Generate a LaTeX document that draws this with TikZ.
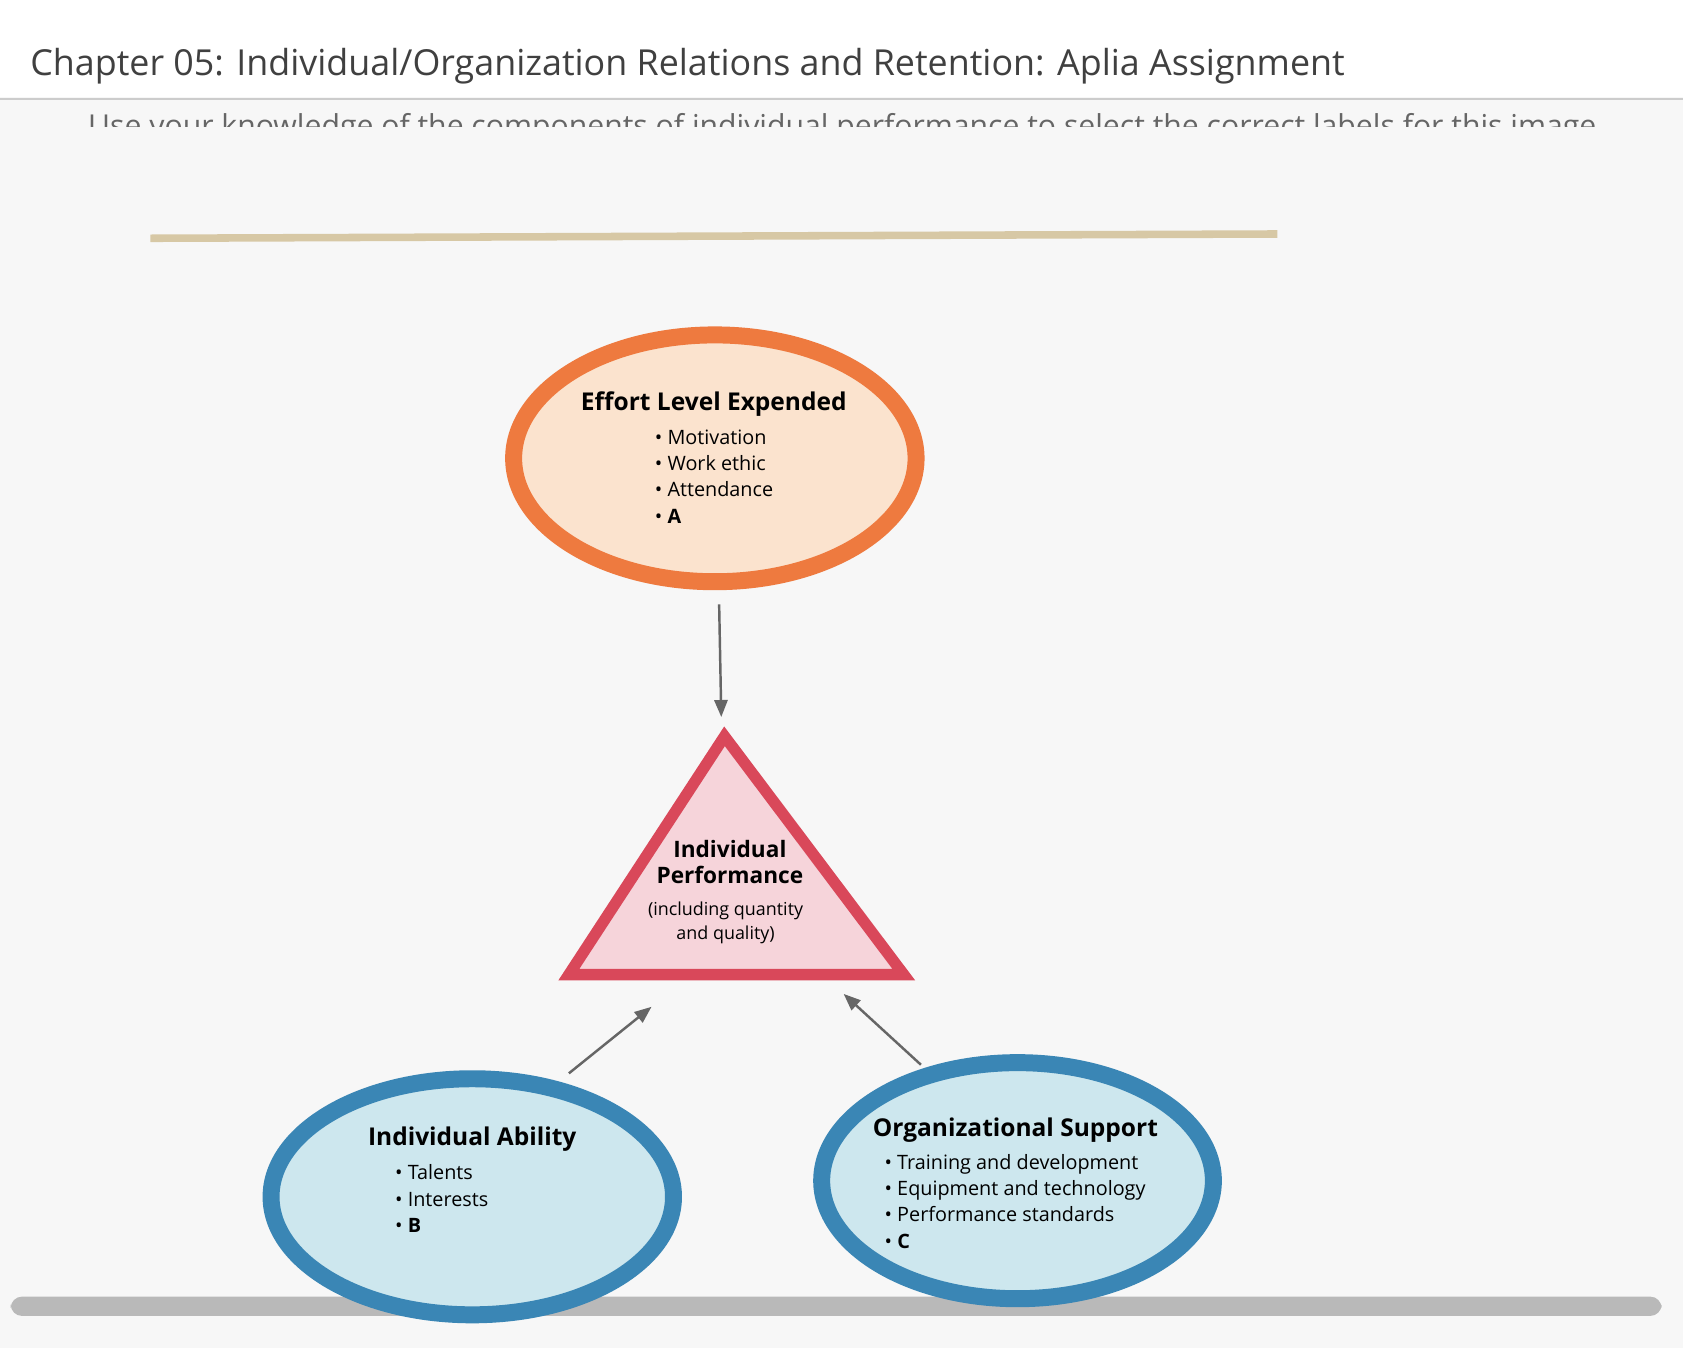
\documentclass[tikz,border=0pt]{standalone}
\usepackage{fontspec}
\setmainfont{Open Sans}
\usetikzlibrary{shapes.geometric,arrows.meta}
\begin{document}
\begin{tikzpicture}[x=0.02cm,y=-0.02cm,
  oval/.style={ellipse,line width=9pt},
  hd/.style={font=\fontsize{13}{15}\selectfont\bfseries},
  bl/.style={font=\fontsize{10.5}{14}\selectfont,align=left},
  conn/.style={draw=gray!80!black,line width=1.3pt,-{Triangle[length=9pt,width=7pt]}}]
\definecolor{orng}{HTML}{EE7A3F}\definecolor{peach}{HTML}{FBE3CE}
\definecolor{blu}{HTML}{3A86B5}\definecolor{lblu}{HTML}{CDE7EE}
\definecolor{redb}{HTML}{D9485A}\definecolor{pinkf}{HTML}{F6D4DA}
\useasboundingbox (0,0) rectangle (1568,1256);
\fill[gray!6] (0,0) rectangle (1568,1256);
\fill[white] (0,0) rectangle (1568,90);
\draw[gray!40,line width=1pt] (0,92) -- (1568,92);
\node[anchor=west,font=\fontsize{19}{22}\selectfont,text=black!75] (title) at (22,62) {Chapter 05: Individual/Organization Relations and Retention: Aplia Assignment};
\begin{scope}
\clip (0,96) rectangle (1568,118);
\node[anchor=west,font=\fontsize{16}{18}\selectfont,text=black!60] (instr) at (76,120) {Use your knowledge of the components of individual performance to select the correct labels for this image.};
\end{scope}
\draw[line width=4pt,color={rgb,255:red,215;green,200;blue,165}] (140,222) -- (1190,218);
\fill[gray!55,rounded corners=6pt] (10,1208) rectangle (1548,1226);
% top ellipse
\node[oval,draw=orng,fill=peach,minimum width=7.5cm,minimum height=4.6cm] (effort) at (666,427) {};
\node[hd] (efft) at (665,376) {Effort Level Expended};
\node[bl,anchor=north west] (effl) at (604,394) {• Motivation\\• Work ethic\\• Attendance\\• \textbf{A}};
% triangle
\coordinate (tA) at (675,686); \coordinate (tL) at (530,908); \coordinate (tR) at (842,908);
\draw[draw=redb,fill=pinkf,line width=6pt,line join=miter] (tA) -- (tL) -- (tR) -- cycle;
\node[align=center,font=\fontsize{12}{14}\selectfont\bfseries] (tritx) at (680,803) {Individual\\Performance};
\node[align=center,font=\fontsize{9.5}{13}\selectfont] (trisub) at (676,860) {(including quantity\\and quality)};
% bottom ellipses
\node[oval,draw=blu,fill=lblu,minimum width=7.5cm,minimum height=4.4cm] (ability) at (440,1115) {};
\node[hd] (abt) at (440,1061) {Individual Ability};
\node[bl,anchor=north west] (abl) at (362,1079) {• Talents\\• Interests\\• \textbf{B}};
\node[oval,draw=blu,fill=lblu,minimum width=7.3cm,minimum height=4.4cm] (support) at (948,1100) {};
\node[hd] (sut) at (946,1053) {Organizational Support};
\node[bl,anchor=north west] (sul) at (818,1069) {• Training and development\\• Equipment and technology\\• Performance standards\\• \textbf{C}};
% connectors
\coordinate (a1) at (670,563); \coordinate (a2) at (672,668);
\coordinate (b1) at (530,1000); \coordinate (b2) at (607,938);
\coordinate (c1) at (858,992); \coordinate (c2) at (786,926);
\draw[conn] (a1) -- (a2);
\draw[conn] (b1) -- (b2);
\draw[conn] (c1) -- (c2);
\end{tikzpicture}
\end{document}
